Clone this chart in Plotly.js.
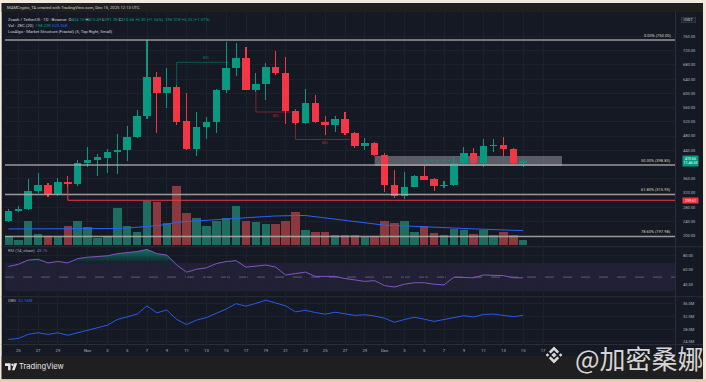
<!DOCTYPE html>
<html>
<head>
<meta charset="utf-8">
<script src="https://cdn.plot.ly/plotly-3.0.1.min.js"></script>
<style>
html,body{margin:0;padding:0;background:#f3e8dc;overflow:hidden;}
#chart{width:706px;height:382px;}
</style>
</head>
<body>
<div id="chart"></div>
<script>
// ---------------- DATA ----------------
const dates = ['2025-10-24','2025-10-25','2025-10-26','2025-10-27','2025-10-28','2025-10-29','2025-10-30','2025-10-31',
'2025-11-01','2025-11-02','2025-11-03','2025-11-04','2025-11-05','2025-11-06','2025-11-07','2025-11-08','2025-11-09','2025-11-10',
'2025-11-11','2025-11-12','2025-11-13','2025-11-14','2025-11-15','2025-11-16','2025-11-17','2025-11-18','2025-11-19','2025-11-20',
'2025-11-21','2025-11-22','2025-11-23','2025-11-24','2025-11-25','2025-11-26','2025-11-27','2025-11-28','2025-11-29','2025-11-30',
'2025-12-01','2025-12-02','2025-12-03','2025-12-04','2025-12-05','2025-12-06','2025-12-07','2025-12-08','2025-12-09','2025-12-10',
'2025-12-11','2025-12-12','2025-12-13','2025-12-14','2025-12-15'];

const open  = [242,270,276,325,342,317,352,345, 404,413,418,434,441,478,536,647,600,617,523,445,505,520,610,672,700,610,626,675,656,551,518,574,520,511,527,490,453,461, 427,343,312,338,368,360,341,343,404,433,404,451,455,443,404.15];
const high  = [276,284,359,375,347,361,368,413, 450,430,445,486,509,553,750,659,671,625,600,549,533,612,744,741,730,656,685,720,701,555,612,596,537,537,549,492,474,463, 432,385,380,371,396,362,354,424,450,446,471,471,477,447,416.49];
const low   = [238,268,272,319,310,312,338,341, 394,368,375,373,410,474,527,488,558,511,441,424,471,488,600,650,609,605,581,652,513,510,515,516,483,492,483,447,441,425, 324,307,302,336,357,326,333,340,402,402,392,436,424,398,391.78];
const close = [270,276,325,342,317,352,345,405, 413,420,434,441,478,536,647,600,617,520,445,505,520,610,672,700,610,626,675,656,551,518,574,519,511,527,490,453,461,428, 343,312,338,368,358,340,343,403,433,404,452,455,443,404,410.66];

// volume in thousands of ZEC
const volume = [405,225,1049,495,405,360,824,1049, 779,315,405,1652,855,585,1980,1922,977,2655,1427,1202,855,1049,1202,1724,1049,1004,932,932,1049,1454,675,585,585,450,450,450,329,374, 1080,977,1080,572,824,527,450,720,675,495,675,450,554,419,198];
const volumeMA = [700,700,705,705,706,706,708,710, 710,712,715,720,743,765,810,855,900,1004,1035,1067,1094,1125,1157,1193,1215,1238,1260,1283,1305,1305,1305,1247,1193,1143,1094,1035,968,914, 869,855,842,824,801,779,761,743,720,698,675,662,648,639,630];

const rsi = [65,68,74,75,70,72,70,76, 78,79,80,83,84,86,89,83,81,67,57,61,63,69,72,73,64,66,67,64,53,55,57,51,51,51,48,46,44,45, 38,36,40,42,42,40,39,50,49,49,53,53,52,49,49];
// OBV in millions
const obv = [24.8,25.1,26.4,26.9,26.4,26.9,26.1,26.9, 27.7,28.3,29.3,31.1,32.0,32.8,35.4,33.2,34.1,31.1,29.5,30.9,31.7,33.1,34.4,36.1,35.3,36.2,37.2,36.3,35.4,33.5,34.0,33.3,32.8,33.4,32.9,32.4,32.6,32.2, 31.5,30.2,31.1,31.8,31.2,30.5,31.1,31.8,32.3,31.9,32.7,32.8,32.3,32.0,32.4];

const xTickDates = ['2025-10-25','2025-10-27','2025-10-29','2025-11-01','2025-11-03','2025-11-05','2025-11-07','2025-11-09','2025-11-11',
'2025-11-13','2025-11-15','2025-11-17','2025-11-19','2025-11-21','2025-11-23','2025-11-25','2025-11-27','2025-11-29','2025-12-01',
'2025-12-03','2025-12-05','2025-12-07','2025-12-09','2025-12-11','2025-12-13','2025-12-15','2025-12-17'];
const xTickText = ['25','27','29','Nov','3','5','7','9','11','13','15','17','19','21','23','25','27','29','Dec',
'3','5','7','9','11','13','15','17'];

const priceTicks = [200,240,280,320,360,440,480,520,560,600,640,680,720,760];
const rsiTicks = [40,60,80];
const obvTicks = [24,28,32,36];
const obvTickText = ['24.0M','28.0M','32.0M','36.0M'];

const fibLevels = [750.00, 398.83, 315.93, 197.98];
const fibLabels = ['0.00% (750.00)','50.00% (398.83)','61.80% (315.93)','78.60% (197.98)'];

const lastPrice = 410.66;
const lastPriceText = '410.66';
const countdownText = '11:46:53';
const supportLevel = 299.61;
const supportStart = '2025-10-30';
const supportPivot = 345;

const zoneStart = '2025-11-30', zoneEnd = '2025-12-18 22:00', zoneLow = 396, zoneHigh = 424;

// market-structure breaks (LuxAlgo)
const structFrom  = ['2025-11-10','2025-11-18','2025-11-22'];
const structTo    = ['2025-11-15 06:00','2025-11-21 13:00','2025-11-27 12:00'];
const structLevel = [687.4, 547.7, 470.6];
const structPivot = [617, 610, 517.6];
const structKind  = ['bull','bear','bear'];
const structLabelDate = ['2025-11-13','2025-11-20','2025-11-25'];
const bosDottedFrom = '2025-12-05', bosDottedTo = '2025-12-11', bosDottedLevel = 411;

// ---------------- HELPERS ----------------
const W = 706, H = 382;
const pxX = x => x / W;
const pyY = y => 1 - y / H;
const DAY = 86400000;
const FONT = 'Roboto, "Noto Sans", sans-serif';
const UP = '#089981', DOWN = '#f23645';
const isUp = close.map((c, i) => c >= open[i]);
const candleColors = isUp.map(u => u ? UP : DOWN);
const volColors = isUp.map(u => u ? '#1f6c61' : '#8a3a3e');
const X0 = '2025-10-23 15:45', X1 = '2025-12-30 08:00';

// ---------------- TRACES ----------------
const traces = [];
traces.push({type:'bar', x:dates, base:low, y:high.map((h, i) => h - low[i]), width:0.11*DAY,
  marker:{color:candleColors, line:{width:0}}, xaxis:'x', yaxis:'y', hoverinfo:'skip'});
traces.push({type:'bar', x:dates, base:open.map((o, i) => Math.min(o, close[i])),
  y:open.map((o, i) => Math.max(Math.abs(close[i] - o), 2)), width:0.76*DAY,
  marker:{color:candleColors, line:{width:0}}, xaxis:'x', yaxis:'y', hoverinfo:'skip'});
traces.push({type:'bar', x:dates, y:volume, width:0.86*DAY, marker:{color:volColors, line:{width:0}},
  xaxis:'x', yaxis:'y4', hoverinfo:'skip'});
traces.push({type:'scatter', mode:'lines', x:dates, y:volumeMA, line:{color:'#2962ff', width:1},
  xaxis:'x', yaxis:'y4', hoverinfo:'skip'});
traces.push({type:'scatter', mode:'lines', x:dates, y:dates.map(() => 70), line:{width:0, color:'rgba(0,0,0,0)'},
  xaxis:'x', yaxis:'y2', hoverinfo:'skip'});
traces.push({type:'scatter', mode:'lines', x:dates, y:rsi.map(v => Math.max(v, 70)), line:{width:0, color:'rgba(0,0,0,0)'},
  fill:'tonexty', fillgradient:{type:'vertical', start:70, stop:90,
  colorscale:[[0,'rgba(8,153,129,0.05)'],[1,'rgba(8,153,129,0.75)']]},
  xaxis:'x', yaxis:'y2', hoverinfo:'skip'});
traces.push({type:'scatter', mode:'lines', x:dates, y:rsi, line:{color:'#7e57c2', width:1},
  xaxis:'x', yaxis:'y2', hoverinfo:'skip'});
traces.push({type:'scatter', mode:'lines', x:dates, y:obv, line:{color:'#2962ff', width:0.9},
  xaxis:'x', yaxis:'y3', hoverinfo:'skip'});

// ---------------- SHAPES ----------------
const shapes = [];
const rectPx = (x0, y0, x1, y1, color, layer) => ({type:'rect', xref:'paper', yref:'paper',
  x0:pxX(x0), x1:pxX(x1), y0:pyY(y1), y1:pyY(y0), fillcolor:color, line:{width:0}, layer:layer || 'below'});
const linePx = (x0, y0, x1, y1, color, w, layer) => ({type:'line', xref:'paper', yref:'paper',
  x0:pxX(x0), x1:pxX(x1), y0:pyY(y0), y1:pyY(y1), line:{color:color, width:w}, layer:layer || 'below'});

shapes.push(rectPx(1.7, 3, 703, 379.3, '#151924'));
shapes.push(rectPx(1.7, 3, 703, 12, '#1f1f1f'));
shapes.push(rectPx(1.7, 356, 703, 379.3, '#1f1f1f'));
shapes.push(rectPx(0, 379.3, 706, 382, '#efcca8'));
shapes.push(linePx(1.7, 246.7, 703, 246.7, '#2a2e39', 1));
shapes.push(linePx(1.7, 296.7, 703, 296.7, '#2a2e39', 1));
shapes.push(linePx(1.7, 344.5, 703, 344.5, '#2a2e39', 1));
shapes.push(linePx(675.5, 12, 675.5, 356, '#2a2e39', 1));

shapes.push({type:'rect', xref:'paper', yref:'y2', x0:pxX(5), x1:pxX(675), y0:30, y1:70,
  fillcolor:'rgba(126,87,194,0.12)', line:{width:0}, layer:'below'});
shapes.push({type:'line', xref:'paper', yref:'y2', x0:pxX(5), x1:pxX(675), y0:50, y1:50,
  line:{color:'rgba(140,143,154,0.55)', width:1, dash:'dash'}, layer:'between'});

shapes.push({type:'rect', xref:'x', yref:'y', x0:zoneStart, x1:zoneEnd, y0:zoneLow, y1:zoneHigh,
  fillcolor:'rgba(160,162,170,0.5)', line:{width:0}, layer:'between'});

fibLevels.forEach(v => shapes.push({type:'line', xref:'paper', yref:'y', x0:pxX(5), x1:pxX(675), y0:v, y1:v,
  line:{color:'rgba(175,175,175,0.85)', width:1.5}, layer:'above'}));

shapes.push({type:'line', xref:'x', yref:'y', x0:supportStart, x1:supportStart, y0:supportPivot, y1:supportLevel,
  line:{color:DOWN, width:1}, layer:'above'});
shapes.push({type:'line', xref:'x', yref:'y', x0:supportStart, x1:X1, y0:supportLevel, y1:supportLevel,
  line:{color:DOWN, width:1}, layer:'above'});

structFrom.forEach((d, i) => {
  const c = structKind[i] === 'bull' ? 'rgba(8,153,129,0.5)' : 'rgba(242,54,69,0.45)';
  shapes.push({type:'line', xref:'x', yref:'y', x0:d, x1:d, y0:structPivot[i], y1:structLevel[i], line:{color:c, width:1}, layer:'above'});
  shapes.push({type:'line', xref:'x', yref:'y', x0:d, x1:structTo[i], y0:structLevel[i], y1:structLevel[i], line:{color:c, width:1}, layer:'above'});
});
shapes.push({type:'line', xref:'x', yref:'y', x0:bosDottedFrom, x1:bosDottedTo, y0:bosDottedLevel, y1:bosDottedLevel,
  line:{color:'rgba(8,153,129,0.7)', width:1, dash:'dot'}, layer:'above'});

const diamond = (cx, cy, r) => `M${pxX(cx-r)},${pyY(cy)} L${pxX(cx)},${pyY(cy-r)} L${pxX(cx+r)},${pyY(cy)} L${pxX(cx)},${pyY(cy+r)} Z`;
const chevron = (cx, cy, s) => {
  const p = [[0,-8.5],[5.2,-3.3],[3.3,-1.4],[0,-4.7],[-3.3,-1.4],[-5.2,-3.3]];
  return 'M' + p.map(q => `${pxX(cx+q[0])},${pyY(cy+s*q[1])}`).join(' L') + ' Z';
};
const LCX = 554, LCY = 355, LC = 'rgba(226,226,226,0.95)';
[diamond(LCX, LCY, 2.6), diamond(LCX-6.6, LCY, 1.8), diamond(LCX+6.6, LCY, 1.8), chevron(LCX, LCY, 1), chevron(LCX, LCY, -1)]
  .forEach(p => shapes.push({type:'path', xref:'paper', yref:'paper', path:p, fillcolor:LC, line:{width:0}, layer:'above'}));

const tvPath = pts => 'M' + pts.map(q => `${pxX(q[0])},${pyY(q[1])}`).join(' L') + ' Z';
shapes.push({type:'path', xref:'paper', yref:'paper', path:tvPath([[5,363.3],[10.6,363.3],[10.6,370.2],[8.1,370.2],[8.1,365.9],[5,365.9]]), fillcolor:'#e6e6e6', line:{width:0}, layer:'above'});
shapes.push({type:'circle', xref:'paper', yref:'paper', x0:pxX(11.3), x1:pxX(13.7), y0:pyY(366), y1:pyY(363.6), fillcolor:'#e6e6e6', line:{width:0}, layer:'above'});
shapes.push({type:'path', xref:'paper', yref:'paper', path:tvPath([[14.3,363.3],[17.2,363.3],[14.6,370.2],[11.9,370.2]]), fillcolor:'#e6e6e6', line:{width:0}, layer:'above'});

// ---------------- ANNOTATIONS ----------------
const ann = [];
const T = (x, y, text, size, color, extra) => Object.assign({xref:'paper', yref:'paper', x:pxX(x), y:pyY(y),
  xanchor:'left', yanchor:'middle', text:text, showarrow:false, borderpad:0,
  font:{family:FONT, size:size, color:color}}, extra || {});
const teal = s => `<span style="color:${UP}">${s}</span>`;
ann.push(T(6, 7, 'MAMCrypto_TA created with TradingView.com, Dec 15, 2025 12:13 UTC', 4.2, '#cfcfcf'));
ann.push(T(7, 19.3, 'Zcash / TetherUS · 1D · Binance  O' + teal('404.15') + ' H' + teal('416.49') + ' L' + teal('391.78') +
  ' C' + teal('410.66') + ' ' + teal('+6.30 (+1.56%)') + '  ' + teal('396.31K') + ' ' + teal('+6.25 (+1.57%)'), 4.2, '#d1d4dc'));
ann.push(T(7, 25.3, 'Vol · ZEC (20)  ' + teal('198.22K') + ' <span style="color:#2962ff">623.56K</span>', 4.2, '#d1d4dc'));
ann.push(T(7, 31.3, 'LuxAlgo - Market Structure (Fractal) (5, Top Right, Small)', 4.2, '#d1d4dc'));
ann.push(T(7, 250.6, 'RSI (14, close)  <span style="color:#7e57c2">48.76</span>', 4.2, '#b2b5be'));
ann.push(T(7, 300.3, 'OBV  <span style="color:#2962ff">32.16M</span>', 4.2, '#b2b5be'));

fibLevels.forEach((v, i) => ann.push({xref:'paper', yref:'y', x:pxX(672), y:v, xanchor:'right', yanchor:'bottom',
  yshift:1, text:fibLabels[i], showarrow:false, borderpad:0, font:{family:FONT, size:4, color:'#d8d3bd'}}));

structFrom.forEach((d, i) => {
  const bull = structKind[i] === 'bull';
  ann.push({xref:'x', yref:'y', x:structLabelDate[i], y:structLevel[i], yanchor:bull ? 'bottom' : 'top', yshift:bull ? 1 : -1,
    text:'BOS', showarrow:false, borderpad:0, font:{family:FONT, size:3, color:bull ? 'rgba(8,153,129,0.8)' : 'rgba(242,54,69,0.7)'}});
});

ann.push({xref:'paper', yref:'y', x:pxX(690), y:lastPrice, xanchor:'center', yanchor:'middle', width:15, height:10,
  text:lastPriceText + '<br>' + countdownText, bgcolor:UP, showarrow:false, borderpad:0,
  font:{family:FONT, size:3.6, color:'#ffffff'}});
ann.push({xref:'paper', yref:'y', x:pxX(690), y:supportLevel, xanchor:'center', yanchor:'middle', width:15, height:5,
  text:supportLevel.toFixed(2), bgcolor:DOWN, showarrow:false, borderpad:0,
  font:{family:FONT, size:3.6, color:'#fff2d6'}});
ann.push({xref:'paper', yref:'paper', x:pxX(688.5), y:pyY(20.3), xanchor:'center', yanchor:'middle', width:14, height:5,
  text:'USDT', bgcolor:'#1f232e', bordercolor:'#434651', borderwidth:0.5, showarrow:false, borderpad:0,
  font:{family:FONT, size:3.6, color:'#d1d4dc'}});

ann.push(T(17.6, 366.8, 'TradingView', 7.6, '#e6e6e6', {font:{family:'Inter, Roboto, sans-serif', size:7.6, color:'#e6e6e6'}}));
ann.push(T(574, 357, '@加密桑娜', 26, LC, {font:{family:'"Noto Sans CJK SC", sans-serif', size:26, color:LC}}));

// ---------------- LAYOUT ----------------
const gridC = '#1d212c';
const tickF = {family:FONT, size:4, color:'#b2b5be'};
const layout = {
  width:W, height:H, margin:{l:0, r:0, t:0, b:0}, paper_bgcolor:'#f3e8dc', plot_bgcolor:'rgba(0,0,0,0)',
  showlegend:false, barmode:'overlay', bargap:0,
  xaxis:{type:'date', domain:[pxX(5), pxX(675)], range:[X0, X1], anchor:'y3', tickmode:'array', tickvals:xTickDates,
    ticktext:xTickText, showgrid:true, gridcolor:gridC, gridwidth:1, tickfont:{family:FONT, size:4.2, color:'#b2b5be'},
    ticks:'', ticklabelstandoff:2, zeroline:false, showline:false, fixedrange:true, automargin:false},
  yaxis:{domain:[pyY(246.7), pyY(12)], side:'right', anchor:'x', range:[169.1, 828.8], tickmode:'array', tickvals:priceTicks,
    ticktext:priceTicks.map(v => v.toFixed(2)), tickfont:tickF, showgrid:true, gridcolor:gridC, zeroline:false,
    ticks:'', ticklabelstandoff:7, showline:false, fixedrange:true, automargin:false},
  yaxis4:{overlaying:'y', side:'left', anchor:'x', range:[-99, 10462], visible:false, showgrid:false, fixedrange:true, automargin:false},
  yaxis2:{domain:[pyY(296.7), pyY(246.7)], side:'right', anchor:'x', range:[22.4, 92.8], tickmode:'array', tickvals:rsiTicks,
    ticktext:rsiTicks.map(v => v.toFixed(2)), tickfont:tickF, showgrid:true, gridcolor:gridC, zeroline:false,
    ticks:'', ticklabelstandoff:7, showline:false, fixedrange:true, automargin:false},
  yaxis3:{domain:[pyY(344.5), pyY(296.7)], side:'right', anchor:'x', range:[23.2, 38.3], tickmode:'array', tickvals:obvTicks,
    ticktext:obvTickText, tickfont:tickF, showgrid:true, gridcolor:gridC, zeroline:false,
    ticks:'', ticklabelstandoff:7, showline:false, fixedrange:true, automargin:false},
  shapes:shapes, annotations:ann
};

Plotly.newPlot('chart', traces, layout, {staticPlot:true, displayModeBar:false});
</script>
</body>
</html>
